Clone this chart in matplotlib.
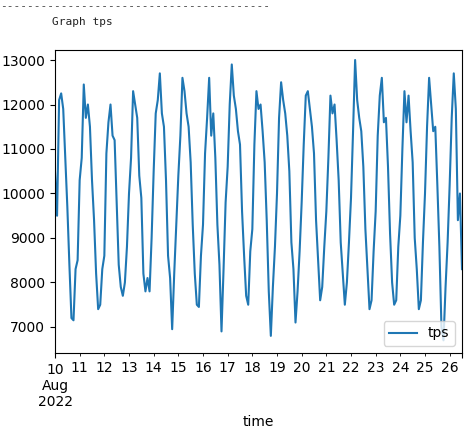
import matplotlib
matplotlib.use("Agg")
import matplotlib.pyplot as plt
import pandas as pd

# tps, one value every 2 hours, one row per day (Aug 10 .. Aug 26)
day10 = [10500, 9500, 12100, 12250, 11900, 10800, 9700, 8400, 7200, 7150, 8300, 8500]
day11 = [10300, 10800, 12450, 11700, 12000, 11500, 10300, 9400, 8200, 7400, 7500, 8300]
day12 = [8600, 10900, 11600, 12000, 11300, 11200, 9800, 8400, 7900, 7700, 8000, 8800]
day13 = [10000, 10800, 12300, 12000, 11700, 10400, 9900, 8200, 7800, 8100, 7800, 9000]
day14 = [10500, 11800, 12100, 12700, 11800, 11500, 10300, 8600, 8100, 6950, 8200, 9300]
day15 = [10400, 11300, 12600, 12300, 11800, 11500, 10700, 9300, 8200, 7500, 7450, 8600]
day16 = [9300, 10900, 11700, 12600, 11300, 11800, 10800, 9300, 8400, 6900, 8300, 9800]
day17 = [10600, 12000, 12900, 12200, 11900, 11400, 11100, 9600, 8600, 7700, 7500, 8700]
day18 = [9200, 11100, 12300, 11900, 12000, 11400, 10700, 9400, 7800, 6800, 7900, 8800]
day19 = [10000, 11700, 12500, 12100, 11800, 11300, 10500, 8900, 8300, 7100, 7800, 8700]
day20 = [9800, 11100, 12200, 12300, 11900, 11500, 10900, 9400, 8500, 7600, 7900, 8800]
day21 = [9600, 10800, 12200, 11800, 12000, 11200, 10300, 8900, 8200, 7500, 8000, 8900]
day22 = [9900, 11400, 13000, 12100, 11700, 11400, 10600, 9200, 8300, 7400, 7600, 8700]
day23 = [9600, 11300, 12200, 12600, 11600, 11700, 10600, 9100, 8000, 7500, 7600, 8800]
day24 = [9500, 11000, 12300, 11600, 12200, 11400, 10700, 9000, 8300, 7400, 7600, 8900]
day25 = [10000, 11500, 12600, 12000, 11400, 11500, 10200, 8800, 7000, 6700, 7900, 8900]
day26 = [10200, 11700, 12700, 11900, 9400, 10000, 8300]

tps = (day10 + day11 + day12 + day13 + day14 + day15 + day16 + day17 + day18
       + day19 + day20 + day21 + day22 + day23 + day24 + day25 + day26)
times = pd.date_range("2022-08-10 00:00", periods=len(tps), freq="2h")
df = pd.DataFrame({"tps": tps}, index=times)
df.index.name = "time"

fig = plt.figure(figsize=(4.74, 4.29), dpi=100)
ax = fig.add_axes([55 / 474, 1 - 353 / 429, 407 / 474, 303 / 429])
df.plot(ax=ax, color="#1f77b4", lw=1.5)
ax.set_ylim(6415, 13225)
ax.set_yticks([7000, 8000, 9000, 10000, 11000, 12000, 13000])
ax.legend(loc="lower right")

fig.text(0, 428 / 429, "-" * 40, family="DejaVu Sans Mono", fontsize=8,
         color="#444444", va="top")
fig.text(52 / 474, 1 - 22 / 429, "Graph tps", family="DejaVu Sans Mono",
         fontsize=8, color="#222222", va="center")

fig.savefig("out.png", dpi=100)
